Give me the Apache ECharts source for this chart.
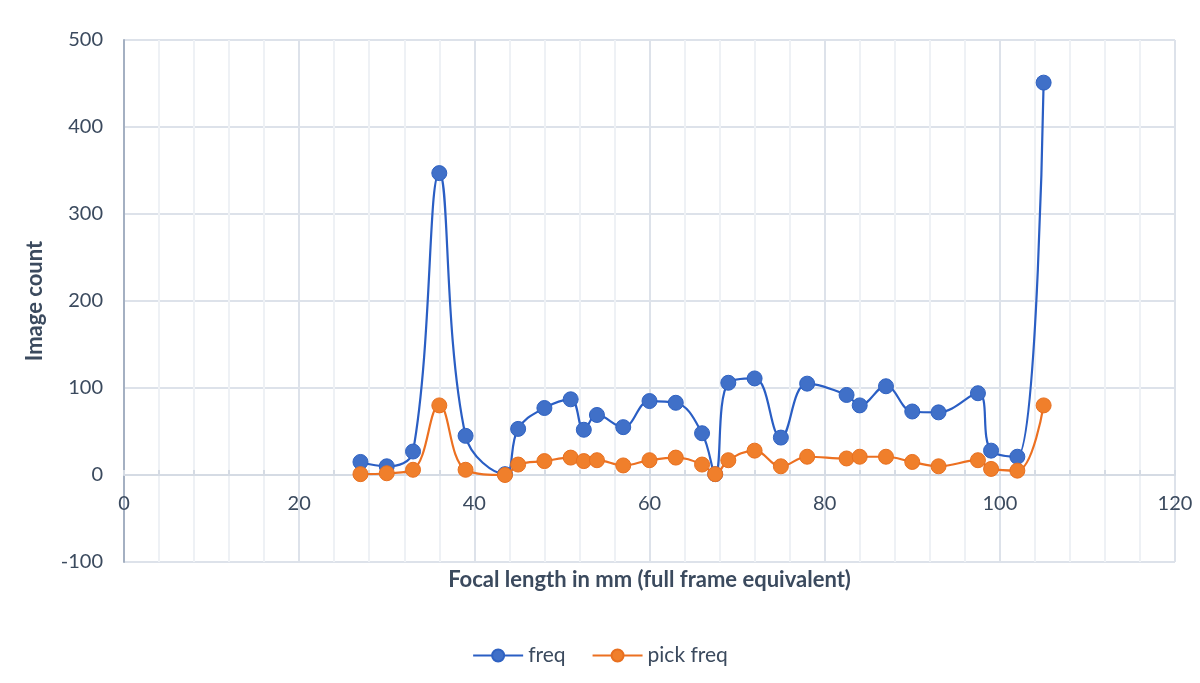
<!DOCTYPE html>
<html>
<head>
<meta charset="utf-8">
<script src="https://cdn.jsdelivr.net/npm/echarts@6/dist/echarts.min.js"></script>
<style>
  html, body { margin: 0; padding: 0; background: #fff; }
  #chart { width: 1200px; height: 683px; }
</style>
</head>
<body>
<div id="chart"></div>
<script>
// focal lengths (mm, full frame equivalent)
var focal = [27, 30, 33, 36, 39, 43.5, 45, 48, 51, 52.5, 54, 57, 60, 63, 66, 67.5, 69, 72, 75, 78, 82.5, 84, 87, 90, 93, 97.5, 99, 102, 105];
var freq = [15, 10, 27, 347, 45, 1, 53, 77, 87, 52, 69, 55, 85, 83, 48, 1, 106, 111, 43, 105, 92, 80, 102, 73, 72, 94, 28, 21, 451];
var pickFreq = [1, 2, 6, 80, 6, 0, 12, 16, 20, 16, 17, 11, 17, 20, 12, 1, 17, 28, 10, 21, 19, 21, 21, 15, 10, 17, 7, 5, 80];

var yMin = -100, yMax = 500;
var textColor = '#3b4a5e';
var font = 'Lato, "Open Sans", sans-serif';

var gridTop = 40, gridBottom = 121;
var plotH = 683 - gridTop - gridBottom;
// x axis sits on y = 0, like the original
var zeroOffset = -plotH * (0 - yMin) / (yMax - yMin);

function pairs(ys) {
    return focal.map(function (x, i) { return [x, ys[i]]; });
}

var myChart = echarts.init(document.getElementById('chart'));
var options = {
    backgroundColor: '#fff',
    animation: false,
    textStyle: { fontFamily: font },
    grid: { left: 124, right: 25, top: gridTop, bottom: gridBottom, containLabel: false, outerBoundsMode: 'none' },
    legend: {
        bottom: 12,
        left: 'center',
        itemWidth: 50,
        itemHeight: 15,
        itemGap: 26,
        textStyle: { color: textColor, fontSize: 21, fontFamily: font },
        data: ['freq', 'pick freq']
    },
    xAxis: {
        type: 'value',
        min: 0,
        max: 120,
        interval: 20,
        position: 'bottom',
        offset: zeroOffset,
        name: 'Focal length in mm (full frame equivalent)',
        nameLocation: 'middle',
        nameGap: 94,
        nameTextStyle: { color: textColor, fontSize: 22, fontWeight: 'bold', fontFamily: font },
        axisLine: { onZero: false, lineStyle: { color: '#d5dbe4', width: 2 } },
        axisTick: { show: true, inside: true, length: 5, lineStyle: { color: '#d5dbe4', width: 2 } },
        minorTick: { show: true, splitNumber: 5, length: 5, lineStyle: { color: '#d5dbe4', width: 2 } },
        axisLabel: { color: textColor, fontSize: 20, margin: 19 },
        splitLine: { show: true, lineStyle: { color: '#dde2ea', width: 2 } },
        minorSplitLine: { show: true, lineStyle: { color: '#eef1f5', width: 2 } }
    },
    yAxis: {
        type: 'value',
        min: yMin,
        max: yMax,
        interval: 100,
        name: 'Image count',
        nameLocation: 'middle',
        nameGap: 78,
        nameTextStyle: { color: textColor, fontSize: 22, fontWeight: 'bold', fontFamily: font },
        axisLine: { show: true, lineStyle: { color: '#a4b0c2', width: 2 } },
        axisTick: { show: false },
        axisLabel: { color: textColor, fontSize: 20, margin: 21 },
        splitLine: { show: true, lineStyle: { color: '#dde2ea', width: 2 } }
    },
    series: [
        {
            name: 'freq',
            type: 'line',
            smooth: 0.4,
            data: pairs(freq),
            symbol: 'circle',
            symbolSize: 15,
            lineStyle: { color: '#2a5ec4', width: 2.2 },
            itemStyle: { color: '#4070c8', borderColor: '#2f62c2', borderWidth: 1 },
            z: 2
        },
        {
            name: 'pick freq',
            type: 'line',
            smooth: 0.4,
            data: pairs(pickFreq),
            symbol: 'circle',
            symbolSize: 15,
            lineStyle: { color: '#ec7021', width: 2.2 },
            itemStyle: { color: '#f07f2b', borderColor: '#e87020', borderWidth: 1 },
            z: 3
        }
    ]
};
myChart.setOption(options);
</script>
</body>
</html>
